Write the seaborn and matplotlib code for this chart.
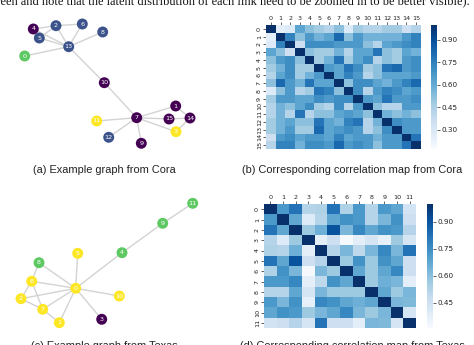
import matplotlib
matplotlib.use("Agg")
import matplotlib.pyplot as plt
from matplotlib.ticker import FormatStrFormatter
import numpy as np
import seaborn as sns

sns.set_theme(style="ticks")
plt.rcParams["font.family"] = ["DejaVu Sans"]

# ---------------- graph (a): Cora subgraph ----------------
cora_nodes = list(range(16))
cora_x = [24.7, 175.7, 56.0, 176.0, 33.3, 39.3, 82.3, 136.7, 102.7, 141.3, 104.3, 96.7, 108.7, 68.7, 190.0, 169.0]
cora_y = [56.0, 106.0, 25.7, 131.7, 29.0, 38.0, 24.0, 117.7, 32.0, 143.3, 82.7, 121.0, 137.3, 46.7, 118.0, 119.0]
cora_class = ["green", "purple", "blue", "yellow", "purple", "blue", "blue", "purple",
              "blue", "purple", "purple", "yellow", "blue", "blue", "purple", "purple"]
cora_edges = [(4, 2), (2, 5), (2, 6), (4, 13), (5, 13), (2, 13), (6, 13), (8, 13), (0, 13),
              (13, 10), (10, 7), (7, 11), (7, 12), (7, 9), (7, 1), (7, 15), (7, 3),
              (1, 14), (15, 14), (3, 14)]

# ---------------- graph (c): second dataset ----------------
tx_nodes = list(range(12))
tx_x = [75.7, 59.3, 21.0, 101.7, 122.0, 77.7, 31.7, 42.7, 39.0, 162.7, 119.3, 192.7]
tx_y = [288.3, 322.7, 298.7, 319.3, 252.7, 253.3, 281.3, 309.3, 262.7, 223.3, 296.0, 203.3]
tx_class = ["yellow", "yellow", "yellow", "purple", "green", "yellow",
            "yellow", "yellow", "green", "green", "yellow", "green"]
tx_edges = [(11, 9), (9, 4), (4, 0), (5, 0), (8, 0), (6, 0), (2, 0), (7, 0), (1, 0),
            (3, 0), (10, 0), (8, 6), (6, 2), (6, 7), (2, 7), (7, 1)]

class_palette = {"purple": "#440154", "blue": "#3b528b", "green": "#5ec962", "yellow": "#fde725"}

# ---------------- correlation maps ----------------
cora_labels = [str(i) for i in range(16)]
cora_corr = [
    [1.00, 0.25, 0.28, 0.62, 0.52, 0.47, 0.42, 0.52, 0.28, 0.47, 0.42, 0.42, 0.47, 0.47, 0.35, 0.42],
    [0.25, 1.00, 0.74, 0.52, 0.66, 0.57, 0.62, 0.82, 0.52, 0.66, 0.57, 0.57, 0.57, 0.57, 0.66, 0.74],
    [0.28, 0.74, 1.00, 0.35, 0.70, 0.70, 0.70, 0.66, 0.66, 0.66, 0.52, 0.42, 0.62, 0.66, 0.70, 0.74],
    [0.62, 0.52, 0.35, 1.00, 0.52, 0.47, 0.47, 0.57, 0.42, 0.62, 0.62, 0.78, 0.52, 0.47, 0.62, 0.57],
    [0.52, 0.66, 0.70, 0.52, 1.00, 0.47, 0.57, 0.78, 0.47, 0.62, 0.70, 0.42, 0.52, 0.47, 0.66, 0.70],
    [0.47, 0.57, 0.70, 0.47, 0.47, 1.00, 0.66, 0.62, 0.78, 0.70, 0.47, 0.52, 0.78, 0.82, 0.66, 0.70],
    [0.42, 0.62, 0.70, 0.47, 0.57, 0.66, 1.00, 0.62, 0.74, 0.66, 0.42, 0.52, 0.62, 0.62, 0.62, 0.66],
    [0.52, 0.82, 0.66, 0.57, 0.78, 0.62, 0.62, 1.00, 0.52, 0.70, 0.70, 0.62, 0.57, 0.66, 0.74, 0.82],
    [0.28, 0.52, 0.66, 0.42, 0.47, 0.78, 0.74, 0.52, 1.00, 0.70, 0.42, 0.66, 0.74, 0.70, 0.62, 0.66],
    [0.47, 0.66, 0.66, 0.62, 0.62, 0.70, 0.66, 0.70, 0.70, 1.00, 0.66, 0.62, 0.78, 0.66, 0.66, 0.70],
    [0.42, 0.57, 0.52, 0.62, 0.70, 0.47, 0.42, 0.70, 0.42, 0.66, 1.00, 0.52, 0.42, 0.42, 0.66, 0.66],
    [0.42, 0.57, 0.42, 0.78, 0.42, 0.52, 0.52, 0.62, 0.66, 0.62, 0.52, 1.00, 0.57, 0.52, 0.57, 0.52],
    [0.47, 0.57, 0.62, 0.52, 0.52, 0.78, 0.62, 0.57, 0.74, 0.78, 0.42, 0.57, 1.00, 0.70, 0.66, 0.66],
    [0.47, 0.57, 0.66, 0.47, 0.47, 0.82, 0.62, 0.66, 0.70, 0.66, 0.42, 0.52, 0.70, 1.00, 0.66, 0.66],
    [0.35, 0.66, 0.70, 0.62, 0.66, 0.66, 0.62, 0.74, 0.62, 0.66, 0.66, 0.57, 0.66, 0.66, 1.00, 0.78],
    [0.42, 0.74, 0.74, 0.57, 0.70, 0.70, 0.66, 0.82, 0.66, 0.70, 0.66, 0.52, 0.66, 0.66, 0.78, 1.00],
]
cora_cbar_ticks = [0.30, 0.45, 0.60, 0.75, 0.90]

tx_labels = [str(i) for i in range(12)]
tx_corr = [
    [1.00, 0.72, 0.82, 0.52, 0.53, 0.82, 0.53, 0.72, 0.52, 0.72, 0.68, 0.44],
    [0.72, 1.00, 0.68, 0.40, 0.52, 0.68, 0.74, 0.72, 0.52, 0.63, 0.74, 0.46],
    [0.82, 0.68, 1.00, 0.57, 0.65, 0.91, 0.63, 0.77, 0.68, 0.74, 0.72, 0.52],
    [0.52, 0.40, 0.57, 1.00, 0.38, 0.46, 0.32, 0.38, 0.43, 0.37, 0.57, 0.43],
    [0.53, 0.52, 0.65, 0.38, 1.00, 0.52, 0.63, 0.50, 0.63, 0.77, 0.63, 0.82],
    [0.82, 0.68, 0.91, 0.46, 0.52, 1.00, 0.57, 0.74, 0.57, 0.74, 0.68, 0.46],
    [0.53, 0.74, 0.63, 0.32, 0.63, 0.57, 1.00, 0.68, 0.57, 0.68, 0.77, 0.46],
    [0.72, 0.72, 0.77, 0.38, 0.50, 0.74, 0.68, 1.00, 0.57, 0.65, 0.63, 0.38],
    [0.52, 0.52, 0.68, 0.43, 0.63, 0.57, 0.57, 0.57, 1.00, 0.68, 0.57, 0.63],
    [0.72, 0.63, 0.74, 0.37, 0.77, 0.74, 0.68, 0.65, 0.68, 1.00, 0.63, 0.62],
    [0.68, 0.74, 0.72, 0.57, 0.63, 0.68, 0.77, 0.63, 0.57, 0.63, 1.00, 0.43],
    [0.44, 0.46, 0.52, 0.43, 0.82, 0.46, 0.46, 0.38, 0.63, 0.62, 0.43, 1.00],
]
tx_cbar_ticks = [0.45, 0.60, 0.75, 0.90]

W, H = 474, 345
fig = plt.figure(figsize=(W / 100, H / 100), dpi=100)


def px_axes(x0, y0, x1, y1):
    """Axes placed by pixel box (origin top-left)."""
    return fig.add_axes([x0 / W, 1 - y1 / H, (x1 - x0) / W, (y1 - y0) / H])


def draw_graph(ax, nodes, xs, ys, classes, edges, box):
    for a, b in edges:
        ax.plot([xs[a], xs[b]], [ys[a], ys[b]], color="#d3d3d3", lw=1.0, zorder=1,
                solid_capstyle="round")
    sns.scatterplot(x=xs, y=ys, hue=classes, palette=class_palette, s=62,
                    edgecolor="none", legend=False, ax=ax, zorder=2)
    for n, x, y in zip(nodes, xs, ys):
        ax.text(x, y, str(n), color="white", fontsize=4.6, ha="center", va="center",
                zorder=3)
    ax.set_xlim(box[0], box[2])
    ax.set_ylim(box[3], box[1])
    ax.set_axis_off()


def draw_corr(ax, cax, mat, labels, vmin, ticks):
    sns.heatmap(np.array(mat), cmap="Blues", vmin=vmin, vmax=1.0, ax=ax, cbar_ax=cax,
                xticklabels=labels, yticklabels=labels, cbar_kws={"ticks": ticks})
    ax.xaxis.tick_top()
    ax.tick_params(axis="both", labelsize=4.6, length=2, width=0.5, pad=1,
                   colors="#222222")
    plt.setp(ax.get_xticklabels(), rotation=0)
    plt.setp(ax.get_yticklabels(), rotation=90, va="center")
    cax.tick_params(labelsize=5.2, length=2, width=0.5, pad=1, colors="#222222")
    cax.yaxis.set_major_formatter(FormatStrFormatter("%.2f"))


# (a) graph
box_a = (0, 10, 230, 165)
ax_a = px_axes(*box_a)
draw_graph(ax_a, cora_nodes, cora_x, cora_y, cora_class, cora_edges, box_a)

# (c) graph
box_c = (0, 190, 230, 340)
ax_c = px_axes(*box_c)
draw_graph(ax_c, tx_nodes, tx_x, tx_y, tx_class, tx_edges, box_c)

# (b) correlation map
ax_b = px_axes(266, 25, 421, 149)
cax_b = px_axes(430.5, 25, 437, 149)
draw_corr(ax_b, cax_b, cora_corr, cora_labels, 0.17, cora_cbar_ticks)

# (d) correlation map
ax_d = px_axes(264, 204, 416, 328)
cax_d = px_axes(427, 204, 433, 328)
draw_corr(ax_d, cax_d, tx_corr, tx_labels, 0.31, tx_cbar_ticks)

# captions
cap_font = dict(family=["Liberation Sans", "DejaVu Sans"], fontsize=7.9, color="#222222")
fig.text(104 / W, 1 - 173 / H, "(a) Example graph from Cora", ha="center", va="baseline", **cap_font)
fig.text(352 / W, 1 - 173 / H, "(b) Corresponding correlation map from Cora", ha="center",
         va="baseline", **cap_font)
fig.text(104 / W, 1 - 349 / H, "(c) Example graph from Texas", ha="center", va="baseline", **cap_font)
fig.text(352 / W, 1 - 349 / H, "(d) Corresponding correlation map from Texas", ha="center",
         va="baseline", **cap_font)

# running text line above the figure
fig.text(470 / W, 1 - 4 / H,
         "screen and note that the latent distribution of each link need to be zoomed in to be better visible).",
         ha="right", va="baseline", family=["Liberation Serif", "DejaVu Serif"], fontsize=8.9,
         color="#111111")

fig.savefig("out.png", dpi=100)
